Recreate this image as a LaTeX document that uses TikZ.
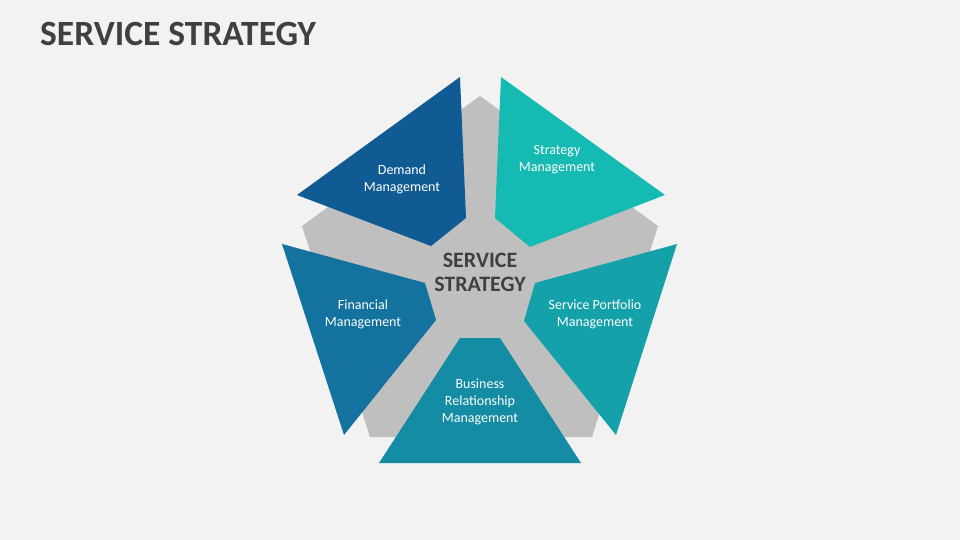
\documentclass[tikz,border=0pt]{standalone}
\usepackage{fontspec}
\setmainfont{Carlito}
\begin{document}
\begin{tikzpicture}[x=1pt,y=-1pt,
 lbl/.style={text=white,align=center,font=\fontsize{14}{17}\selectfont},
 petal/.style={draw=none}]
\definecolor{bg}{HTML}{F2F2F2}
\definecolor{gr}{HTML}{BFBFBF}
\definecolor{cA}{HTML}{105B93}
\definecolor{cB}{HTML}{15BBB2}
\definecolor{cC}{HTML}{13729E}
\definecolor{cD}{HTML}{14A1AA}
\definecolor{cE}{HTML}{138CA4}
\fill[bg] (0,0) rectangle (960,540);
\useasboundingbox (0,0) rectangle (960,540);
\node[anchor=west,font=\fontsize{35.5}{40}\selectfont\bfseries,text=black!75,inner sep=0pt] (title) at (40,34) {SERVICE STRATEGY};
\fill[gr] (480,96) -- (658,226) -- (592,437) -- (370,437) -- (302,226) -- cycle;
\fill[cA] (460,77) -- (297,195) -- (431,246) -- (466,218) -- cycle;
\fill[cB] (501,77) -- (665,195) -- (530,247) -- (495,218) -- cycle;
\fill[cC] (282,244) -- (425,283) -- (436,320) -- (344,435) -- cycle;
\fill[cD] (677,244) -- (535,283) -- (524,321) -- (616,435) -- cycle;
\fill[cE] (460,338) -- (500,338) -- (581,463) -- (379,463) -- cycle;
\node[lbl] (dm) at (402,179) {Demand\\Management};
\node[lbl] (sm) at (557,160) {Strategy\\Management};
\node[lbl] (fm) at (363,314) {Financial\\Management};
\node[lbl] (sp) at (595,314) {Service Portfolio\\Management};
\node[lbl] (br) at (480,402) {Business\\Relationship\\Management};
\node[align=center,text=black!75,font=\fontsize{22}{24}\selectfont\bfseries] (c) at (480,272) {SERVICE\\STRATEGY};
\end{tikzpicture}
\end{document}
